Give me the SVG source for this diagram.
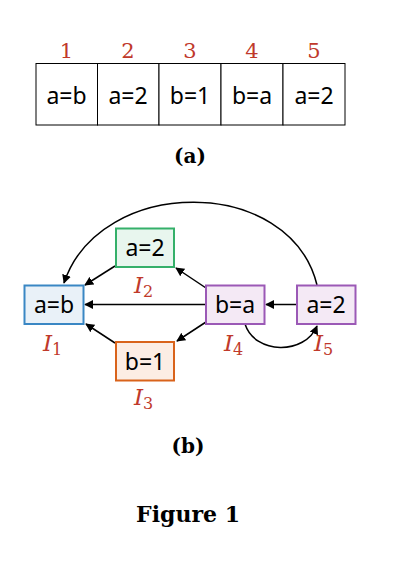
<svg xmlns="http://www.w3.org/2000/svg" width="400" height="566" viewBox="0 0 400 566">
<style>
.cell{fill:#fff;stroke:#000;stroke-width:1}
.t{font-family:"Noto Sans","DejaVu Sans",sans-serif;font-size:23px;fill:#000;text-anchor:middle}
.num{font-family:"DejaVu Serif","Liberation Serif",serif;font-size:21px;fill:#c0392b;text-anchor:middle}
.cap{font-family:"DejaVu Serif","Liberation Serif",serif;font-weight:bold;font-size:20px;fill:#000;text-anchor:middle}
.fig{font-family:"DejaVu Serif","Liberation Serif",serif;font-weight:bold;font-size:22px;fill:#000;text-anchor:middle}
.lbl{font-family:"DejaVu Serif","Liberation Serif",serif;font-style:italic;font-size:23px;fill:#c0392b}
.sub{font-size:16px;font-style:normal}
.e{fill:none;stroke:#000;stroke-width:1.5}
</style>
<defs>
<marker id="ah" viewBox="0 0 10 10" refX="9" refY="5" markerWidth="9" markerHeight="9" markerUnits="userSpaceOnUse" orient="auto">
<path d="M0,0 L10,5 L0,10 Z" fill="#000"/>
</marker>
</defs>
<g id="table">
<text class="num" x="66.5" y="58">1</text>
<text class="num" x="128" y="58">2</text>
<text class="num" x="190" y="58">3</text>
<text class="num" x="252" y="58">4</text>
<text class="num" x="314" y="58">5</text>
<rect class="cell" x="36" y="63.5" width="61.5" height="61.5"/>
<rect class="cell" x="97.5" y="63.5" width="61.5" height="61.5"/>
<rect class="cell" x="159" y="63.5" width="62" height="61.5"/>
<rect class="cell" x="221" y="63.5" width="62" height="61.5"/>
<rect class="cell" x="283" y="63.5" width="62" height="61.5"/>
<text class="t" x="66.5" y="104">a=b</text>
<text class="t" x="128" y="104">a=2</text>
<text class="t" x="190" y="104">b=1</text>
<text class="t" x="252" y="104">b=a</text>
<text class="t" x="314" y="104">a=2</text>
<text class="cap" x="190" y="163">(a)</text>
</g>
<g id="connectors">
<line class="e" x1="296" y1="304.5" x2="266" y2="304.5" marker-end="url(#ah)"/>
<line class="e" x1="206" y1="304.5" x2="85" y2="304.5" marker-end="url(#ah)"/>
<line class="e" x1="206" y1="288" x2="176" y2="268" marker-end="url(#ah)"/>
<line class="e" x1="206" y1="322" x2="177" y2="341" marker-end="url(#ah)"/>
<line class="e" x1="115" y1="266" x2="85" y2="285" marker-end="url(#ah)"/>
<line class="e" x1="115" y1="343" x2="86" y2="324" marker-end="url(#ah)"/>
<path class="e" d="M317,285 C290,175 100,175 64,283" marker-end="url(#ah)"/>
<path class="e" d="M245,324 C255,355 305,355 317,326" marker-end="url(#ah)"/>
</g>
<g id="I1">
<rect x="24.5" y="285.5" width="59" height="38.5" fill="#e9f1f8" stroke="#3a87c4" stroke-width="2"/>
<text class="t" x="54" y="313">a=b</text>
<text class="lbl" x="43" y="351">I<tspan class="sub" dy="4">1</tspan></text>
</g>
<g id="I2">
<rect x="116" y="228.5" width="58" height="38.5" fill="#e8f6ee" stroke="#35b06a" stroke-width="2"/>
<text class="t" x="145" y="256">a=2</text>
<text class="lbl" x="134" y="293">I<tspan class="sub" dy="4">2</tspan></text>
</g>
<g id="I3">
<rect x="116" y="342" width="58" height="38.5" fill="#fcede4" stroke="#d9631b" stroke-width="2"/>
<text class="t" x="145" y="369.5">b=1</text>
<text class="lbl" x="134" y="405">I<tspan class="sub" dy="4">3</tspan></text>
</g>
<g id="I4">
<rect x="206" y="285.5" width="58.5" height="38.5" fill="#f4e9f5" stroke="#9b59b6" stroke-width="2"/>
<text class="t" x="235" y="313">b=a</text>
<text class="lbl" x="224" y="351">I<tspan class="sub" dy="4">4</tspan></text>
</g>
<g id="I5">
<rect x="297" y="285.5" width="58.5" height="38.5" fill="#f4e9f5" stroke="#9b59b6" stroke-width="2"/>
<text class="t" x="326" y="313">a=2</text>
<text class="lbl" x="314" y="351">I<tspan class="sub" dy="4">5</tspan></text>
</g>
<text class="cap" x="188" y="453">(b)</text>
<text class="fig" x="188" y="522">Figure 1</text>
</svg>
